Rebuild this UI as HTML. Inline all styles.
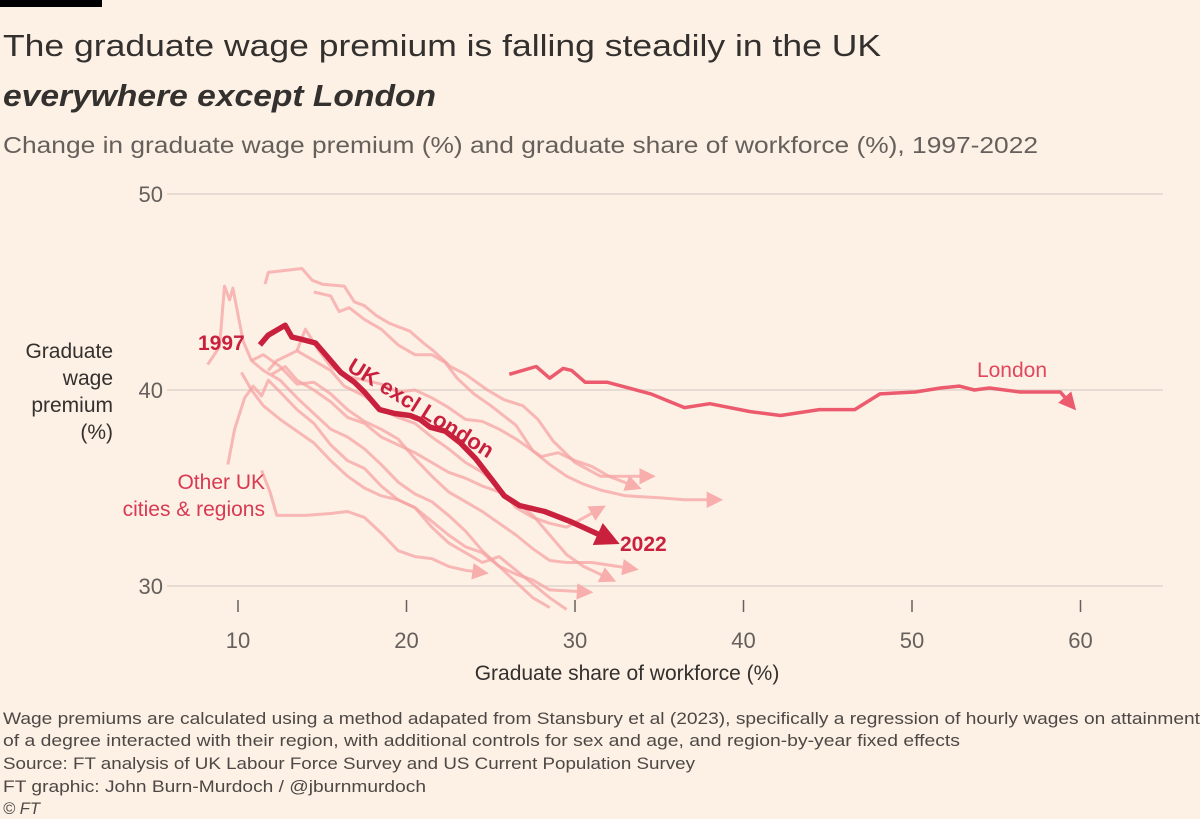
<!DOCTYPE html>
<html><head><meta charset="utf-8">
<style>
html,body{margin:0;padding:0;background:#fdf1e6;}
svg{display:block;font-family:"Liberation Sans",sans-serif;}
</style></head>
<body>
<svg id="chart" width="1200" height="819" viewBox="0 0 1200 819">
<rect x="0" y="0" width="1200" height="819" fill="#fdf1e6"/>
<rect x="0" y="0" width="102" height="7" fill="#000"/>
<text x="3" y="56" font-size="31" fill="#33302e" textLength="878" lengthAdjust="spacingAndGlyphs">The graduate wage premium is falling steadily in the UK</text>
<text x="3" y="106" font-size="31" font-weight="bold" font-style="italic" fill="#33302e" textLength="433" lengthAdjust="spacingAndGlyphs">everywhere except London</text>
<text x="3" y="153" font-size="23" fill="#66605c" textLength="1035" lengthAdjust="spacingAndGlyphs">Change in graduate wage premium (%) and graduate share of workforce (%), 1997-2022</text>
<defs>
<marker id="arrL" viewBox="0 0 10 10" refX="5" refY="5" markerWidth="5.5" markerHeight="5.5" orient="auto" markerUnits="strokeWidth"><path d="M0,0 L10,5 L0,10 Z" fill="#f7aeac"/></marker>
<marker id="arrD" viewBox="0 0 10 10" refX="5" refY="5" markerWidth="4.4" markerHeight="4.4" orient="auto" markerUnits="strokeWidth"><path d="M0,0 L10,5 L0,10 Z" fill="#c9213d"/></marker>
<marker id="arrLon" viewBox="0 0 10 10" refX="5" refY="5" markerWidth="5" markerHeight="5" orient="auto" markerUnits="strokeWidth"><path d="M0,0 L10,5 L0,10 Z" fill="#ec5a6d"/></marker>
</defs>
<g id="grid"></g>
<g id="axes"></g>
<g id="regions"></g>
<g id="main"></g>
<text x="113" y="358" font-size="21" fill="#33302e" text-anchor="end">Graduate</text>
<text x="113" y="385" font-size="21" fill="#33302e" text-anchor="end">wage</text>
<text x="113" y="412" font-size="21" fill="#33302e" text-anchor="end">premium</text>
<text x="113" y="439" font-size="21" fill="#33302e" text-anchor="end">(%)</text>
<text x="627" y="680" font-size="21" fill="#33302e" text-anchor="middle">Graduate share of workforce (%)</text>
<text x="198" y="350" font-size="21" font-weight="bold" fill="#c9213d">1997</text>
<text x="0" y="0" font-size="22" font-weight="bold" fill="#c9213d" transform="translate(346,370) rotate(32)">UK excl London</text>
<text x="1012" y="377" font-size="21" fill="#e0475c" text-anchor="middle">London</text>
<text x="265" y="489" font-size="21" fill="#d83a52" text-anchor="end">Other UK</text>
<text x="265" y="516" font-size="21" fill="#d83a52" text-anchor="end">cities &amp; regions</text>
<text x="620" y="551" font-size="21" font-weight="bold" fill="#c9213d">2022</text>
<g font-size="16.5" fill="#4d4845">
<text x="3" y="724" textLength="1197" lengthAdjust="spacingAndGlyphs">Wage premiums are calculated using a method adapated from Stansbury et al (2023), specifically a regression of hourly wages on attainment</text>
<text x="3" y="746" textLength="957" lengthAdjust="spacingAndGlyphs">of a degree interacted with their region, with additional controls for sex and age, and region-by-year fixed effects</text>
<text x="3" y="769" textLength="692" lengthAdjust="spacingAndGlyphs">Source: FT analysis of UK Labour Force Survey and US Current Population Survey</text>
<text x="3" y="792" textLength="423" lengthAdjust="spacingAndGlyphs">FT graphic: John Burn-Murdoch / @jburnmurdoch</text>
<text x="3" y="814" font-style="italic">© FT</text>
</g>
</svg>
<script>
const xTicks = [10, 20, 30, 40, 50, 60];
const yTicks = [30, 40, 50];
const ukExclLondon = [[11.3,42.3],[11.8,42.8],[12.8,43.3],[13.2,42.7],[13.7,42.6],[14.6,42.4],[15.2,41.8],[16.1,40.9],[16.9,40.4],[17.5,39.9],[18.4,39.0],[19.3,38.8],[20.2,38.7],[20.8,38.5],[21.4,38.1],[22.3,37.9],[23.2,37.3],[24.1,36.5],[25.0,35.5],[25.8,34.6],[26.7,34.1],[28.2,33.8],[29.7,33.3],[32.0,32.4]];
const london = [[26.1,40.8],[27.7,41.2],[28.5,40.6],[29.3,41.1],[29.8,41.0],[30.6,40.4],[31.9,40.4],[34.5,39.8],[36.5,39.1],[38.0,39.3],[40.4,38.9],[42.2,38.7],[44.5,39.0],[46.6,39.0],[48.1,39.8],[50.2,39.9],[51.7,40.1],[52.8,40.2],[53.7,40.0],[54.6,40.1],[56.4,39.9],[58.2,39.9],[58.8,39.9],[59.4,39.3]];
const region1 = [[11.6,45.4],[11.8,46.0],[13.8,46.2],[14.4,45.6],[15.0,45.4],[16.3,45.3],[16.9,44.5],[17.5,44.3],[18.2,43.8],[19.0,43.4],[20.2,43.0],[21.0,42.4],[21.6,42.0],[22.6,41.2],[23.5,40.8],[24.8,40.0],[25.8,39.5],[26.9,39.2],[27.8,38.5],[28.7,37.4],[30.0,36.3],[31.5,35.6],[34.3,35.6]];
const region2 = [[8.2,41.3],[8.9,42.2],[9.2,45.3],[9.5,44.6],[9.7,45.2],[10.3,42.5],[10.8,41.5],[11.5,41.0],[12.5,40.5],[13.5,39.6],[14.5,38.8],[15.5,38.0],[16.5,37.6],[17.5,37.0],[18.5,36.2],[19.5,35.3],[20.5,34.7],[21.5,34.3],[22.5,33.6],[23.5,32.8],[24.5,31.8],[25.5,31.0],[26.5,30.2],[27.5,29.4],[28.5,28.9]];
const region3 = [[11.8,41.0],[12.3,41.5],[13.5,42.0],[14.5,41.5],[15.5,41.0],[16.3,40.2],[17.5,39.7],[18.5,39.0],[19.5,38.6],[20.5,38.3],[21.5,37.6],[22.5,37.0],[23.5,36.3],[24.5,35.8],[25.5,35.0],[26.5,34.0],[27.5,33.5],[28.5,33.2],[29.5,33.0],[31.4,33.9]];
const region4 = [[11.4,35.9],[11.9,34.8],[12.3,33.6],[14.0,33.6],[15.5,33.7],[16.5,33.8],[17.5,33.5],[18.5,32.7],[19.5,31.8],[20.5,31.5],[21.5,31.4],[22.5,31.0],[23.5,30.8],[24.4,30.7]];
const region5 = [[9.4,36.2],[9.8,38.0],[10.4,39.6],[10.9,40.2],[11.4,39.7],[11.8,40.5],[12.5,39.9],[13.5,39.0],[14.5,38.3],[15.5,37.2],[16.5,36.4],[17.5,36.0],[18.5,35.1],[19.5,34.4],[20.5,34.0],[21.5,33.0],[22.5,32.2],[23.5,31.7],[24.5,31.2],[25.5,31.5],[26.5,30.8],[27.5,30.1],[28.5,29.4],[29.5,28.8]];
const region6 = [[10.2,40.9],[10.8,40.0],[11.5,39.2],[12.5,38.5],[13.5,37.9],[14.5,37.3],[15.5,36.4],[16.5,35.6],[17.5,35.0],[18.5,34.6],[19.5,34.4],[20.5,34.0],[21.5,33.3],[22.5,32.6],[23.5,32.0],[24.5,31.7],[25.5,31.0],[26.5,30.6],[27.5,30.3],[28.5,29.8],[30.6,29.7]];
const region7 = [[12.0,40.8],[12.8,41.2],[13.5,40.5],[14.5,40.0],[15.5,39.4],[16.5,38.6],[17.5,38.3],[18.5,37.6],[19.5,37.2],[20.5,36.8],[21.5,36.3],[22.5,35.8],[23.5,35.5],[24.5,35.1],[25.5,34.8],[26.5,34.3],[27.5,33.6],[28.5,32.6],[29.5,31.6],[30.5,31.0],[32.0,30.4]];
const region8 = [[10.8,41.5],[11.5,41.8],[12.5,41.2],[13.5,40.3],[14.5,40.4],[15.5,39.8],[16.5,39.0],[17.5,38.4],[18.5,38.0],[19.5,37.5],[20.5,36.5],[21.5,35.6],[22.5,34.8],[23.5,34.3],[24.5,33.8],[25.5,33.2],[26.5,32.6],[27.5,31.9],[28.5,31.3],[29.5,31.2],[31.0,31.2],[33.3,30.9]];
const region9 = [[13.5,42.0],[14.0,43.1],[14.8,42.0],[15.5,41.2],[16.5,40.7],[17.5,40.5],[18.5,40.3],[19.5,39.9],[20.5,40.0],[21.5,39.6],[22.5,39.1],[23.5,38.5],[24.5,38.4],[25.5,38.0],[26.5,37.5],[27.5,36.9],[28.5,36.2],[29.5,35.6],[30.5,35.2],[31.5,34.9],[33.0,34.6],[35.0,34.5],[36.5,34.4],[38.3,34.4]];
const region10 = [[14.5,45.0],[15.5,44.8],[16.0,44.0],[16.6,44.2],[17.5,43.6],[18.5,43.1],[19.5,42.3],[20.5,41.8],[21.5,41.8],[22.3,41.4],[23.0,40.6],[24.0,39.8],[25.0,39.2],[26.5,38.2],[27.5,36.9],[28.0,36.6],[29.0,36.8],[30.0,36.4],[31.0,36.1],[32.0,35.6],[33.5,35.1]];
const regions = [region1, region2, region3, region4, region5, region6, region7, region8, region9, region10];

const NS = "http://www.w3.org/2000/svg";
function xScale(v){ return 238 + (v - 10) * 16.85; }
function yScale(v){ return 390 - (v - 40) * 19.6; }
function pathD(pts){ return pts.map((p,i)=>(i?"L":"M")+xScale(p[0]).toFixed(1)+","+yScale(p[1]).toFixed(1)).join(" "); }

const grid = document.getElementById("grid");
const axes = document.getElementById("axes");
yTicks.forEach(t=>{
  const l = document.createElementNS(NS,"line");
  l.setAttribute("x1",167); l.setAttribute("x2",1163);
  l.setAttribute("y1",yScale(t)); l.setAttribute("y2",yScale(t));
  l.setAttribute("stroke","#e0d6cd"); l.setAttribute("stroke-width","1.5");
  
  
  grid.appendChild(l);
  const tx = document.createElementNS(NS,"text");
  tx.setAttribute("x",163); tx.setAttribute("y",yScale(t)+8);
  tx.setAttribute("text-anchor","end"); tx.setAttribute("font-size","22"); tx.setAttribute("fill","#66605c");
  tx.textContent = t;
  
  
  axes.appendChild(tx);
});
xTicks.forEach(t=>{
  const l = document.createElementNS(NS,"line");
  l.setAttribute("x1",xScale(t)); l.setAttribute("x2",xScale(t));
  l.setAttribute("y1",600); l.setAttribute("y2",612);
  l.setAttribute("stroke","#66605c"); l.setAttribute("stroke-width","1.5");
  
  
  axes.appendChild(l);
  const tx = document.createElementNS(NS,"text");
  tx.setAttribute("x",xScale(t)); tx.setAttribute("y",648);
  tx.setAttribute("text-anchor","middle"); tx.setAttribute("font-size","22"); tx.setAttribute("fill","#66605c");
  tx.textContent = t;
  
  
  axes.appendChild(tx);
});
const rg = document.getElementById("regions");
regions.forEach(r=>{
  const p = document.createElementNS(NS,"path");
  p.setAttribute("d",pathD(r)); p.setAttribute("fill","none");
  p.setAttribute("stroke","#f5a3a3"); p.setAttribute("stroke-width","3");
  p.setAttribute("stroke-opacity","0.75"); p.setAttribute("stroke-linejoin","round");
  if (r !== region2 && r !== region5) p.setAttribute("marker-end","url(#arrL)");
  
  
  rg.appendChild(p);
});
const mg = document.getElementById("main");
const lp = document.createElementNS(NS,"path");
lp.setAttribute("d",pathD(london)); lp.setAttribute("fill","none");
lp.setAttribute("stroke","#ec5a6d"); lp.setAttribute("stroke-width","3.5"); lp.setAttribute("stroke-linejoin","round");
lp.setAttribute("marker-end","url(#arrLon)");


mg.appendChild(lp);
const up = document.createElementNS(NS,"path");
up.setAttribute("d",pathD(ukExclLondon)); up.setAttribute("fill","none");
up.setAttribute("stroke","#c9213d"); up.setAttribute("stroke-width","5.5"); up.setAttribute("stroke-linejoin","round");
up.setAttribute("marker-end","url(#arrD)");


mg.appendChild(up);
</script>
</body></html>
